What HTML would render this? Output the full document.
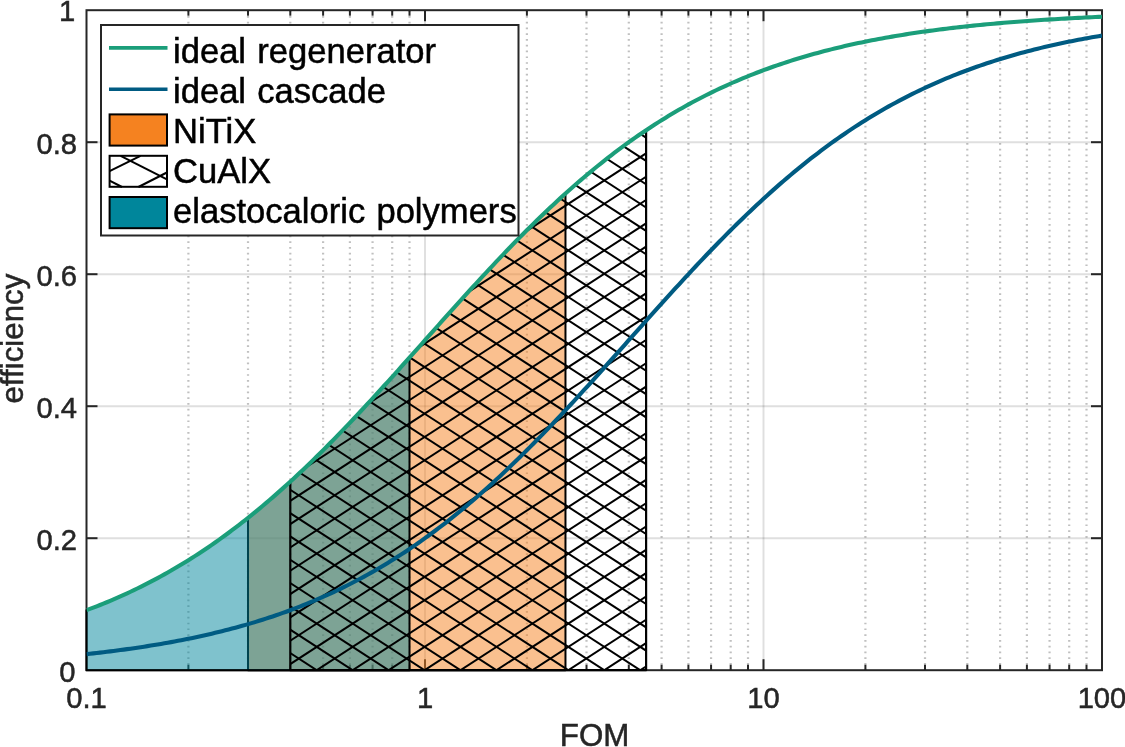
<!DOCTYPE html>
<html><head><meta charset="utf-8"><title>efficiency vs FOM</title>
<style>html,body{margin:0;padding:0;background:#fff}svg{display:block}</style></head>
<body>
<svg width="1125" height="747" viewBox="0 0 1125 747" font-family="'Liberation Sans', sans-serif">
<rect width="1125" height="747" fill="#fff"/>
<defs><clipPath id="ax"><rect x="86.5" y="10.2" width="1015.5" height="660.0"/></clipPath></defs>
<g stroke="#c0c0c0" stroke-width="2.2" stroke-dasharray="1.7 4.078" stroke-dashoffset="0.35" fill="none">
<line x1="188.40" y1="670.2" x2="188.40" y2="10.2"/>
<line x1="248.01" y1="670.2" x2="248.01" y2="10.2"/>
<line x1="290.30" y1="670.2" x2="290.30" y2="10.2"/>
<line x1="323.10" y1="670.2" x2="323.10" y2="10.2"/>
<line x1="349.90" y1="670.2" x2="349.90" y2="10.2"/>
<line x1="372.57" y1="670.2" x2="372.57" y2="10.2"/>
<line x1="392.20" y1="670.2" x2="392.20" y2="10.2"/>
<line x1="409.51" y1="670.2" x2="409.51" y2="10.2"/>
<line x1="526.90" y1="670.2" x2="526.90" y2="10.2"/>
<line x1="586.51" y1="670.2" x2="586.51" y2="10.2"/>
<line x1="628.80" y1="670.2" x2="628.80" y2="10.2"/>
<line x1="661.60" y1="670.2" x2="661.60" y2="10.2"/>
<line x1="688.40" y1="670.2" x2="688.40" y2="10.2"/>
<line x1="711.07" y1="670.2" x2="711.07" y2="10.2"/>
<line x1="730.70" y1="670.2" x2="730.70" y2="10.2"/>
<line x1="748.01" y1="670.2" x2="748.01" y2="10.2"/>
<line x1="865.40" y1="670.2" x2="865.40" y2="10.2"/>
<line x1="925.01" y1="670.2" x2="925.01" y2="10.2"/>
<line x1="967.30" y1="670.2" x2="967.30" y2="10.2"/>
<line x1="1000.10" y1="670.2" x2="1000.10" y2="10.2"/>
<line x1="1026.90" y1="670.2" x2="1026.90" y2="10.2"/>
<line x1="1049.57" y1="670.2" x2="1049.57" y2="10.2"/>
<line x1="1069.20" y1="670.2" x2="1069.20" y2="10.2"/>
<line x1="1086.51" y1="670.2" x2="1086.51" y2="10.2"/>
</g>
<g stroke="#262626" stroke-opacity="0.15" stroke-width="1.9" fill="none">
<line x1="425.00" y1="670.2" x2="425.00" y2="10.2"/>
<line x1="763.50" y1="670.2" x2="763.50" y2="10.2"/>
<line x1="86.5" y1="538.20" x2="1102.0" y2="538.20"/>
<line x1="86.5" y1="406.20" x2="1102.0" y2="406.20"/>
<line x1="86.5" y1="274.20" x2="1102.0" y2="274.20"/>
<line x1="86.5" y1="142.20" x2="1102.0" y2="142.20"/>
</g>
<g stroke="#262626" stroke-width="2" fill="none">
<line x1="188.40" y1="670.2" x2="188.40" y2="664.7"/>
<line x1="188.40" y1="10.2" x2="188.40" y2="15.7"/>
<line x1="248.01" y1="670.2" x2="248.01" y2="664.7"/>
<line x1="248.01" y1="10.2" x2="248.01" y2="15.7"/>
<line x1="290.30" y1="670.2" x2="290.30" y2="664.7"/>
<line x1="290.30" y1="10.2" x2="290.30" y2="15.7"/>
<line x1="323.10" y1="670.2" x2="323.10" y2="664.7"/>
<line x1="323.10" y1="10.2" x2="323.10" y2="15.7"/>
<line x1="349.90" y1="670.2" x2="349.90" y2="664.7"/>
<line x1="349.90" y1="10.2" x2="349.90" y2="15.7"/>
<line x1="372.57" y1="670.2" x2="372.57" y2="664.7"/>
<line x1="372.57" y1="10.2" x2="372.57" y2="15.7"/>
<line x1="392.20" y1="670.2" x2="392.20" y2="664.7"/>
<line x1="392.20" y1="10.2" x2="392.20" y2="15.7"/>
<line x1="409.51" y1="670.2" x2="409.51" y2="664.7"/>
<line x1="409.51" y1="10.2" x2="409.51" y2="15.7"/>
<line x1="526.90" y1="670.2" x2="526.90" y2="664.7"/>
<line x1="526.90" y1="10.2" x2="526.90" y2="15.7"/>
<line x1="586.51" y1="670.2" x2="586.51" y2="664.7"/>
<line x1="586.51" y1="10.2" x2="586.51" y2="15.7"/>
<line x1="628.80" y1="670.2" x2="628.80" y2="664.7"/>
<line x1="628.80" y1="10.2" x2="628.80" y2="15.7"/>
<line x1="661.60" y1="670.2" x2="661.60" y2="664.7"/>
<line x1="661.60" y1="10.2" x2="661.60" y2="15.7"/>
<line x1="688.40" y1="670.2" x2="688.40" y2="664.7"/>
<line x1="688.40" y1="10.2" x2="688.40" y2="15.7"/>
<line x1="711.07" y1="670.2" x2="711.07" y2="664.7"/>
<line x1="711.07" y1="10.2" x2="711.07" y2="15.7"/>
<line x1="730.70" y1="670.2" x2="730.70" y2="664.7"/>
<line x1="730.70" y1="10.2" x2="730.70" y2="15.7"/>
<line x1="748.01" y1="670.2" x2="748.01" y2="664.7"/>
<line x1="748.01" y1="10.2" x2="748.01" y2="15.7"/>
<line x1="865.40" y1="670.2" x2="865.40" y2="664.7"/>
<line x1="865.40" y1="10.2" x2="865.40" y2="15.7"/>
<line x1="925.01" y1="670.2" x2="925.01" y2="664.7"/>
<line x1="925.01" y1="10.2" x2="925.01" y2="15.7"/>
<line x1="967.30" y1="670.2" x2="967.30" y2="664.7"/>
<line x1="967.30" y1="10.2" x2="967.30" y2="15.7"/>
<line x1="1000.10" y1="670.2" x2="1000.10" y2="664.7"/>
<line x1="1000.10" y1="10.2" x2="1000.10" y2="15.7"/>
<line x1="1026.90" y1="670.2" x2="1026.90" y2="664.7"/>
<line x1="1026.90" y1="10.2" x2="1026.90" y2="15.7"/>
<line x1="1049.57" y1="670.2" x2="1049.57" y2="664.7"/>
<line x1="1049.57" y1="10.2" x2="1049.57" y2="15.7"/>
<line x1="1069.20" y1="670.2" x2="1069.20" y2="664.7"/>
<line x1="1069.20" y1="10.2" x2="1069.20" y2="15.7"/>
<line x1="1086.51" y1="670.2" x2="1086.51" y2="664.7"/>
<line x1="1086.51" y1="10.2" x2="1086.51" y2="15.7"/>
<line x1="425.00" y1="670.2" x2="425.00" y2="659.2"/>
<line x1="425.00" y1="10.2" x2="425.00" y2="21.2"/>
<line x1="763.50" y1="670.2" x2="763.50" y2="659.2"/>
<line x1="763.50" y1="10.2" x2="763.50" y2="21.2"/>
<line x1="86.5" y1="538.20" x2="97.5" y2="538.20"/>
<line x1="1102.0" y1="538.20" x2="1091.0" y2="538.20"/>
<line x1="86.5" y1="406.20" x2="97.5" y2="406.20"/>
<line x1="1102.0" y1="406.20" x2="1091.0" y2="406.20"/>
<line x1="86.5" y1="274.20" x2="97.5" y2="274.20"/>
<line x1="1102.0" y1="274.20" x2="1091.0" y2="274.20"/>
<line x1="86.5" y1="142.20" x2="97.5" y2="142.20"/>
<line x1="1102.0" y1="142.20" x2="1091.0" y2="142.20"/>
<rect x="86.5" y="10.2" width="1015.5" height="660.0"/>
</g>
<path d="M248.01,670.20 L248.01,517.89 L251.97,514.71 L255.94,511.48 L259.91,508.20 L263.88,504.88 L267.85,501.51 L271.82,498.10 L275.78,494.64 L279.75,491.14 L283.72,487.60 L287.69,484.01 L291.66,480.38 L295.62,476.71 L299.59,473.00 L303.56,469.24 L307.53,465.45 L311.50,461.62 L315.47,457.75 L319.43,453.84 L323.40,449.90 L327.37,445.92 L331.34,441.91 L335.31,437.86 L339.28,433.78 L343.24,429.67 L347.21,425.53 L351.18,421.36 L355.15,417.16 L359.12,412.93 L363.09,408.68 L367.05,404.41 L371.02,400.11 L374.99,395.79 L378.96,391.46 L382.93,387.10 L386.90,382.73 L390.86,378.34 L394.83,373.94 L398.80,369.53 L402.77,365.10 L406.74,360.67 L410.71,356.23 L414.67,351.79 L418.64,347.34 L422.61,342.88 L426.58,338.43 L430.55,333.98 L434.52,329.52 L438.48,325.08 L442.45,320.64 L446.42,316.20 L450.39,311.78 L454.36,307.36 L458.32,302.96 L462.29,298.57 L466.26,294.19 L470.23,289.83 L474.20,285.49 L478.17,281.17 L482.13,276.87 L486.10,272.59 L490.07,268.33 L494.04,264.10 L498.01,259.90 L501.98,255.72 L505.94,251.58 L509.91,247.46 L513.88,243.37 L517.85,239.32 L521.82,235.30 L525.79,231.31 L529.75,227.36 L533.72,223.45 L537.69,219.57 L541.66,215.73 L545.63,211.93 L549.60,208.17 L553.56,204.45 L557.53,200.77 L561.50,197.13 L565.47,193.53 L565.47,670.20Z" fill="#f58220" fill-opacity="0.5" stroke="#000" stroke-width="2" stroke-linejoin="round"/>
<path d="M86.50,670.20 L86.50,610.20 L90.54,608.68 L94.58,607.14 L98.61,605.55 L102.65,603.93 L106.69,602.28 L110.73,600.58 L114.76,598.86 L118.80,597.09 L122.84,595.28 L126.88,593.44 L130.91,591.56 L134.95,589.64 L138.99,587.67 L143.03,585.67 L147.06,583.62 L151.10,581.54 L155.14,579.41 L159.18,577.24 L163.22,575.02 L167.25,572.76 L171.29,570.46 L175.33,568.11 L179.37,565.72 L183.40,563.28 L187.44,560.80 L191.48,558.27 L195.52,555.69 L199.55,553.07 L203.59,550.40 L207.63,547.68 L211.67,544.92 L215.70,542.11 L219.74,539.25 L223.78,536.34 L227.82,533.38 L231.85,530.38 L235.89,527.33 L239.93,524.23 L243.97,521.09 L248.01,517.89 L252.04,514.65 L256.08,511.36 L260.12,508.03 L264.16,504.64 L268.19,501.21 L272.23,497.74 L276.27,494.21 L280.31,490.65 L284.34,487.04 L288.38,483.38 L292.42,479.68 L296.46,475.93 L300.49,472.15 L304.53,468.32 L308.57,464.45 L312.61,460.54 L316.65,456.59 L320.68,452.61 L324.72,448.58 L328.76,444.52 L332.80,440.42 L336.83,436.29 L340.87,432.13 L344.91,427.93 L348.95,423.71 L352.98,419.45 L357.02,415.17 L361.06,410.86 L365.10,406.52 L369.13,402.16 L373.17,397.78 L377.21,393.37 L381.25,388.95 L385.29,384.51 L389.32,380.05 L393.36,375.58 L397.40,371.09 L401.44,366.59 L405.47,362.08 L409.51,357.57 L409.51,670.20Z" fill="#00869b" fill-opacity="0.5"/>
<path d="M86.50,670.20 L86.50,610.20 L90.54,608.68 L94.58,607.14 L98.61,605.55 L102.65,603.93 L106.69,602.28 L110.73,600.58 L114.76,598.86 L118.80,597.09 L122.84,595.28 L126.88,593.44 L130.91,591.56 L134.95,589.64 L138.99,587.67 L143.03,585.67 L147.06,583.62 L151.10,581.54 L155.14,579.41 L159.18,577.24 L163.22,575.02 L167.25,572.76 L171.29,570.46 L175.33,568.11 L179.37,565.72 L183.40,563.28 L187.44,560.80 L191.48,558.27 L195.52,555.69 L199.55,553.07 L203.59,550.40 L207.63,547.68 L211.67,544.92 L215.70,542.11 L219.74,539.25 L223.78,536.34 L227.82,533.38 L231.85,530.38 L235.89,527.33 L239.93,524.23 L243.97,521.09 L248.01,517.89 L252.04,514.65 L256.08,511.36 L260.12,508.03 L264.16,504.64 L268.19,501.21 L272.23,497.74 L276.27,494.21 L280.31,490.65 L284.34,487.04 L288.38,483.38 L292.42,479.68 L296.46,475.93 L300.49,472.15 L304.53,468.32 L308.57,464.45 L312.61,460.54 L316.65,456.59 L320.68,452.61 L324.72,448.58 L328.76,444.52 L332.80,440.42 L336.83,436.29 L340.87,432.13 L344.91,427.93 L348.95,423.71 L352.98,419.45 L357.02,415.17 L361.06,410.86 L365.10,406.52 L369.13,402.16 L373.17,397.78 L377.21,393.37 L381.25,388.95 L385.29,384.51 L389.32,380.05 L393.36,375.58 L397.40,371.09 L401.44,366.59 L405.47,362.08 L409.51,357.57 L409.51,670.20Z" fill="none" stroke="#000" stroke-width="2" stroke-linejoin="round"/>
<clipPath id="cu"><path d="M290.30,670.20 L290.30,481.63 L294.74,477.53 L299.19,473.37 L303.64,469.17 L308.09,464.92 L312.54,460.61 L316.98,456.26 L321.43,451.86 L325.88,447.42 L330.33,442.93 L334.77,438.40 L339.22,433.83 L343.67,429.22 L348.12,424.58 L352.56,419.89 L357.01,415.18 L361.46,410.43 L365.91,405.64 L370.36,400.84 L374.80,396.00 L379.25,391.14 L383.70,386.25 L388.15,381.35 L392.59,376.43 L397.04,371.49 L401.49,366.53 L405.94,361.57 L410.38,356.59 L414.83,351.61 L419.28,346.62 L423.73,341.63 L428.18,336.64 L432.62,331.65 L437.07,326.66 L441.52,321.68 L445.97,316.71 L450.41,311.75 L454.86,306.80 L459.31,301.87 L463.76,296.95 L468.20,292.05 L472.65,287.18 L477.10,282.33 L481.55,277.50 L486.00,272.71 L490.44,267.94 L494.89,263.20 L499.34,258.50 L503.79,253.83 L508.23,249.20 L512.68,244.60 L517.13,240.05 L521.58,235.54 L526.02,231.07 L530.47,226.65 L534.92,222.27 L539.37,217.94 L543.82,213.66 L548.26,209.42 L552.71,205.24 L557.16,201.11 L561.61,197.03 L566.05,193.01 L570.50,189.03 L574.95,185.12 L579.40,181.26 L583.84,177.45 L588.29,173.70 L592.74,170.01 L597.19,166.37 L601.64,162.79 L606.08,159.27 L610.53,155.81 L614.98,152.41 L619.43,149.06 L623.87,145.77 L628.32,142.54 L632.77,139.37 L637.22,136.26 L641.66,133.20 L646.11,130.20 L646.11,670.20Z"/></clipPath>
<g clip-path="url(#cu)" stroke="#000" stroke-width="2" fill="none">
<line x1="250" y1="-32.77" x2="700" y2="-324.68"/>
<line x1="250" y1="-492.43" x2="700" y2="-200.52"/>
<line x1="250" y1="-9.45" x2="700" y2="-301.36"/>
<line x1="250" y1="-469.11" x2="700" y2="-177.20"/>
<line x1="250" y1="13.87" x2="700" y2="-278.04"/>
<line x1="250" y1="-445.79" x2="700" y2="-153.88"/>
<line x1="250" y1="37.19" x2="700" y2="-254.72"/>
<line x1="250" y1="-422.47" x2="700" y2="-130.56"/>
<line x1="250" y1="60.51" x2="700" y2="-231.40"/>
<line x1="250" y1="-399.15" x2="700" y2="-107.24"/>
<line x1="250" y1="83.83" x2="700" y2="-208.08"/>
<line x1="250" y1="-375.83" x2="700" y2="-83.92"/>
<line x1="250" y1="107.15" x2="700" y2="-184.76"/>
<line x1="250" y1="-352.51" x2="700" y2="-60.60"/>
<line x1="250" y1="130.47" x2="700" y2="-161.44"/>
<line x1="250" y1="-329.19" x2="700" y2="-37.28"/>
<line x1="250" y1="153.79" x2="700" y2="-138.12"/>
<line x1="250" y1="-305.87" x2="700" y2="-13.96"/>
<line x1="250" y1="177.11" x2="700" y2="-114.80"/>
<line x1="250" y1="-282.55" x2="700" y2="9.36"/>
<line x1="250" y1="200.43" x2="700" y2="-91.48"/>
<line x1="250" y1="-259.23" x2="700" y2="32.68"/>
<line x1="250" y1="223.75" x2="700" y2="-68.16"/>
<line x1="250" y1="-235.91" x2="700" y2="56.00"/>
<line x1="250" y1="247.07" x2="700" y2="-44.84"/>
<line x1="250" y1="-212.59" x2="700" y2="79.32"/>
<line x1="250" y1="270.39" x2="700" y2="-21.52"/>
<line x1="250" y1="-189.27" x2="700" y2="102.64"/>
<line x1="250" y1="293.71" x2="700" y2="1.80"/>
<line x1="250" y1="-165.95" x2="700" y2="125.96"/>
<line x1="250" y1="317.03" x2="700" y2="25.12"/>
<line x1="250" y1="-142.63" x2="700" y2="149.28"/>
<line x1="250" y1="340.35" x2="700" y2="48.44"/>
<line x1="250" y1="-119.31" x2="700" y2="172.60"/>
<line x1="250" y1="363.67" x2="700" y2="71.76"/>
<line x1="250" y1="-95.99" x2="700" y2="195.92"/>
<line x1="250" y1="386.99" x2="700" y2="95.08"/>
<line x1="250" y1="-72.67" x2="700" y2="219.24"/>
<line x1="250" y1="410.31" x2="700" y2="118.40"/>
<line x1="250" y1="-49.35" x2="700" y2="242.56"/>
<line x1="250" y1="433.63" x2="700" y2="141.72"/>
<line x1="250" y1="-26.03" x2="700" y2="265.88"/>
<line x1="250" y1="456.95" x2="700" y2="165.04"/>
<line x1="250" y1="-2.71" x2="700" y2="289.20"/>
<line x1="250" y1="480.27" x2="700" y2="188.36"/>
<line x1="250" y1="20.61" x2="700" y2="312.52"/>
<line x1="250" y1="503.59" x2="700" y2="211.68"/>
<line x1="250" y1="43.93" x2="700" y2="335.84"/>
<line x1="250" y1="526.91" x2="700" y2="235.00"/>
<line x1="250" y1="67.25" x2="700" y2="359.16"/>
<line x1="250" y1="550.23" x2="700" y2="258.32"/>
<line x1="250" y1="90.57" x2="700" y2="382.48"/>
<line x1="250" y1="573.55" x2="700" y2="281.64"/>
<line x1="250" y1="113.89" x2="700" y2="405.80"/>
<line x1="250" y1="596.87" x2="700" y2="304.96"/>
<line x1="250" y1="137.21" x2="700" y2="429.12"/>
<line x1="250" y1="620.19" x2="700" y2="328.28"/>
<line x1="250" y1="160.53" x2="700" y2="452.44"/>
<line x1="250" y1="643.51" x2="700" y2="351.60"/>
<line x1="250" y1="183.85" x2="700" y2="475.76"/>
<line x1="250" y1="666.83" x2="700" y2="374.92"/>
<line x1="250" y1="207.17" x2="700" y2="499.08"/>
<line x1="250" y1="690.15" x2="700" y2="398.24"/>
<line x1="250" y1="230.49" x2="700" y2="522.40"/>
<line x1="250" y1="713.47" x2="700" y2="421.56"/>
<line x1="250" y1="253.81" x2="700" y2="545.72"/>
<line x1="250" y1="736.79" x2="700" y2="444.88"/>
<line x1="250" y1="277.13" x2="700" y2="569.04"/>
<line x1="250" y1="760.11" x2="700" y2="468.20"/>
<line x1="250" y1="300.45" x2="700" y2="592.36"/>
<line x1="250" y1="783.43" x2="700" y2="491.52"/>
<line x1="250" y1="323.77" x2="700" y2="615.68"/>
<line x1="250" y1="806.75" x2="700" y2="514.84"/>
<line x1="250" y1="347.09" x2="700" y2="639.00"/>
<line x1="250" y1="830.07" x2="700" y2="538.16"/>
<line x1="250" y1="370.41" x2="700" y2="662.32"/>
<line x1="250" y1="853.39" x2="700" y2="561.48"/>
<line x1="250" y1="393.73" x2="700" y2="685.64"/>
<line x1="250" y1="876.71" x2="700" y2="584.80"/>
<line x1="250" y1="417.05" x2="700" y2="708.96"/>
<line x1="250" y1="900.03" x2="700" y2="608.12"/>
<line x1="250" y1="440.37" x2="700" y2="732.28"/>
<line x1="250" y1="923.35" x2="700" y2="631.44"/>
<line x1="250" y1="463.69" x2="700" y2="755.60"/>
<line x1="250" y1="946.67" x2="700" y2="654.76"/>
<line x1="250" y1="487.01" x2="700" y2="778.92"/>
<line x1="250" y1="969.99" x2="700" y2="678.08"/>
<line x1="250" y1="510.33" x2="700" y2="802.24"/>
<line x1="250" y1="993.31" x2="700" y2="701.40"/>
<line x1="250" y1="533.65" x2="700" y2="825.56"/>
<line x1="250" y1="1016.63" x2="700" y2="724.72"/>
<line x1="250" y1="556.97" x2="700" y2="848.88"/>
<line x1="250" y1="1039.95" x2="700" y2="748.04"/>
<line x1="250" y1="580.29" x2="700" y2="872.20"/>
<line x1="250" y1="1063.27" x2="700" y2="771.36"/>
<line x1="250" y1="603.61" x2="700" y2="895.52"/>
<line x1="250" y1="1086.59" x2="700" y2="794.68"/>
<line x1="250" y1="626.93" x2="700" y2="918.84"/>
<line x1="250" y1="1109.91" x2="700" y2="818.00"/>
<line x1="250" y1="650.25" x2="700" y2="942.16"/>
<line x1="250" y1="1133.23" x2="700" y2="841.32"/>
<line x1="250" y1="673.57" x2="700" y2="965.48"/>
<line x1="250" y1="1156.55" x2="700" y2="864.64"/>
<line x1="250" y1="696.89" x2="700" y2="988.80"/>
<line x1="250" y1="1179.87" x2="700" y2="887.96"/>
<line x1="250" y1="720.21" x2="700" y2="1012.12"/>
<line x1="250" y1="1203.19" x2="700" y2="911.28"/>
<line x1="250" y1="743.53" x2="700" y2="1035.44"/>
<line x1="250" y1="1226.51" x2="700" y2="934.60"/>
<line x1="250" y1="766.85" x2="700" y2="1058.76"/>
<line x1="250" y1="1249.83" x2="700" y2="957.92"/>
<line x1="250" y1="790.17" x2="700" y2="1082.08"/>
<line x1="250" y1="1273.15" x2="700" y2="981.24"/>
<line x1="250" y1="813.49" x2="700" y2="1105.40"/>
<line x1="250" y1="1296.47" x2="700" y2="1004.56"/>
<line x1="250" y1="836.81" x2="700" y2="1128.72"/>
<line x1="250" y1="1319.79" x2="700" y2="1027.88"/>
<line x1="250" y1="860.13" x2="700" y2="1152.04"/>
<line x1="250" y1="1343.11" x2="700" y2="1051.20"/>
<line x1="250" y1="883.45" x2="700" y2="1175.36"/>
<line x1="250" y1="1366.43" x2="700" y2="1074.52"/>
<line x1="250" y1="906.77" x2="700" y2="1198.68"/>
<line x1="250" y1="1389.75" x2="700" y2="1097.84"/>
<line x1="250" y1="930.09" x2="700" y2="1222.00"/>
<line x1="250" y1="1413.07" x2="700" y2="1121.16"/>
<line x1="250" y1="953.41" x2="700" y2="1245.32"/>
<line x1="250" y1="1436.39" x2="700" y2="1144.48"/>
<line x1="250" y1="976.73" x2="700" y2="1268.64"/>
<line x1="250" y1="1459.71" x2="700" y2="1167.80"/>
<line x1="250" y1="1000.05" x2="700" y2="1291.96"/>
<line x1="250" y1="1483.03" x2="700" y2="1191.12"/>
<line x1="250" y1="1023.37" x2="700" y2="1315.28"/>
<line x1="250" y1="1506.35" x2="700" y2="1214.44"/>
<line x1="250" y1="1046.69" x2="700" y2="1338.60"/>
<line x1="250" y1="1529.67" x2="700" y2="1237.76"/>
<line x1="250" y1="1070.01" x2="700" y2="1361.92"/>
<line x1="250" y1="1552.99" x2="700" y2="1261.08"/>
<line x1="250" y1="1093.33" x2="700" y2="1385.24"/>
<line x1="250" y1="1576.31" x2="700" y2="1284.40"/>
<line x1="250" y1="1116.65" x2="700" y2="1408.56"/>
<line x1="250" y1="1599.63" x2="700" y2="1307.72"/>
<line x1="250" y1="1139.97" x2="700" y2="1431.88"/>
<line x1="250" y1="1622.95" x2="700" y2="1331.04"/>
<line x1="250" y1="1163.29" x2="700" y2="1455.20"/>
<line x1="250" y1="1646.27" x2="700" y2="1354.36"/>
<line x1="250" y1="1186.61" x2="700" y2="1478.52"/>
<line x1="250" y1="1669.59" x2="700" y2="1377.68"/>
<line x1="250" y1="1209.93" x2="700" y2="1501.84"/>
<line x1="250" y1="1692.91" x2="700" y2="1401.00"/>
<line x1="250" y1="1233.25" x2="700" y2="1525.16"/>
<line x1="250" y1="1716.23" x2="700" y2="1424.32"/>
<line x1="250" y1="1256.57" x2="700" y2="1548.48"/>
<line x1="250" y1="1739.55" x2="700" y2="1447.64"/>
<line x1="250" y1="1279.89" x2="700" y2="1571.80"/>
<line x1="250" y1="1762.87" x2="700" y2="1470.96"/>
<line x1="250" y1="1303.21" x2="700" y2="1595.12"/>
<line x1="250" y1="1786.19" x2="700" y2="1494.28"/>
<line x1="250" y1="1326.53" x2="700" y2="1618.44"/>
<line x1="250" y1="1809.51" x2="700" y2="1517.60"/>
<line x1="250" y1="1349.85" x2="700" y2="1641.76"/>
<line x1="250" y1="1832.83" x2="700" y2="1540.92"/>
<line x1="250" y1="1373.17" x2="700" y2="1665.08"/>
<line x1="250" y1="1856.15" x2="700" y2="1564.24"/>
<line x1="250" y1="1396.49" x2="700" y2="1688.40"/>
<line x1="250" y1="1879.47" x2="700" y2="1587.56"/>
<line x1="250" y1="1419.81" x2="700" y2="1711.72"/>
<line x1="250" y1="1902.79" x2="700" y2="1610.88"/>
<line x1="250" y1="1443.13" x2="700" y2="1735.04"/>
<line x1="250" y1="1926.11" x2="700" y2="1634.20"/>
<line x1="250" y1="1466.45" x2="700" y2="1758.36"/>
<line x1="250" y1="1949.43" x2="700" y2="1657.52"/>
<line x1="250" y1="1489.77" x2="700" y2="1781.68"/>
<line x1="250" y1="1972.75" x2="700" y2="1680.84"/>
<line x1="250" y1="1513.09" x2="700" y2="1805.00"/>
<line x1="250" y1="1996.07" x2="700" y2="1704.16"/>
<line x1="250" y1="1536.41" x2="700" y2="1828.32"/>
<line x1="250" y1="2019.39" x2="700" y2="1727.48"/>
<line x1="250" y1="1559.73" x2="700" y2="1851.64"/>
<line x1="250" y1="2042.71" x2="700" y2="1750.80"/>
<line x1="250" y1="1583.05" x2="700" y2="1874.96"/>
<line x1="250" y1="2066.03" x2="700" y2="1774.12"/>
<line x1="250" y1="1606.37" x2="700" y2="1898.28"/>
<line x1="250" y1="2089.35" x2="700" y2="1797.44"/>
<line x1="250" y1="1629.69" x2="700" y2="1921.60"/>
<line x1="250" y1="2112.67" x2="700" y2="1820.76"/>
<line x1="250" y1="1653.01" x2="700" y2="1944.92"/>
<line x1="250" y1="2135.99" x2="700" y2="1844.08"/>
<line x1="250" y1="1676.33" x2="700" y2="1968.24"/>
<line x1="250" y1="2159.31" x2="700" y2="1867.40"/>
<line x1="250" y1="1699.65" x2="700" y2="1991.56"/>
<line x1="250" y1="2182.63" x2="700" y2="1890.72"/>
<line x1="250" y1="1722.97" x2="700" y2="2014.88"/>
<line x1="250" y1="2205.95" x2="700" y2="1914.04"/>
<line x1="250" y1="1746.29" x2="700" y2="2038.20"/>
<line x1="250" y1="2229.27" x2="700" y2="1937.36"/>
<line x1="250" y1="1769.61" x2="700" y2="2061.52"/>
<line x1="250" y1="2252.59" x2="700" y2="1960.68"/>
<line x1="250" y1="1792.93" x2="700" y2="2084.84"/>
<line x1="250" y1="2275.91" x2="700" y2="1984.00"/>
<line x1="250" y1="1816.25" x2="700" y2="2108.16"/>
</g>
<path d="M290.30,670.20 L290.30,481.63 L294.74,477.53 L299.19,473.37 L303.64,469.17 L308.09,464.92 L312.54,460.61 L316.98,456.26 L321.43,451.86 L325.88,447.42 L330.33,442.93 L334.77,438.40 L339.22,433.83 L343.67,429.22 L348.12,424.58 L352.56,419.89 L357.01,415.18 L361.46,410.43 L365.91,405.64 L370.36,400.84 L374.80,396.00 L379.25,391.14 L383.70,386.25 L388.15,381.35 L392.59,376.43 L397.04,371.49 L401.49,366.53 L405.94,361.57 L410.38,356.59 L414.83,351.61 L419.28,346.62 L423.73,341.63 L428.18,336.64 L432.62,331.65 L437.07,326.66 L441.52,321.68 L445.97,316.71 L450.41,311.75 L454.86,306.80 L459.31,301.87 L463.76,296.95 L468.20,292.05 L472.65,287.18 L477.10,282.33 L481.55,277.50 L486.00,272.71 L490.44,267.94 L494.89,263.20 L499.34,258.50 L503.79,253.83 L508.23,249.20 L512.68,244.60 L517.13,240.05 L521.58,235.54 L526.02,231.07 L530.47,226.65 L534.92,222.27 L539.37,217.94 L543.82,213.66 L548.26,209.42 L552.71,205.24 L557.16,201.11 L561.61,197.03 L566.05,193.01 L570.50,189.03 L574.95,185.12 L579.40,181.26 L583.84,177.45 L588.29,173.70 L592.74,170.01 L597.19,166.37 L601.64,162.79 L606.08,159.27 L610.53,155.81 L614.98,152.41 L619.43,149.06 L623.87,145.77 L628.32,142.54 L632.77,139.37 L637.22,136.26 L641.66,133.20 L646.11,130.20 L646.11,670.20Z" fill="none" stroke="#000" stroke-width="2.2" stroke-linejoin="round"/>
<g clip-path="url(#ax)" fill="none" stroke-width="4.1" stroke-linejoin="round">
<path d="M86.50,610.20 L89.89,608.93 L93.27,607.64 L96.66,606.32 L100.04,604.98 L103.43,603.62 L106.81,602.23 L110.20,600.81 L113.58,599.37 L116.96,597.90 L120.35,596.40 L123.73,594.88 L127.12,593.33 L130.50,591.75 L133.89,590.15 L137.28,588.51 L140.66,586.85 L144.05,585.16 L147.43,583.44 L150.81,581.69 L154.20,579.91 L157.58,578.10 L160.97,576.26 L164.35,574.39 L167.74,572.49 L171.12,570.55 L174.51,568.59 L177.90,566.59 L181.28,564.57 L184.67,562.51 L188.05,560.42 L191.44,558.29 L194.82,556.14 L198.21,553.95 L201.59,551.73 L204.97,549.47 L208.36,547.18 L211.75,544.86 L215.13,542.51 L218.52,540.12 L221.90,537.70 L225.28,535.24 L228.67,532.75 L232.05,530.23 L235.44,527.68 L238.82,525.09 L242.21,522.46 L245.59,519.80 L248.98,517.11 L252.37,514.39 L255.75,511.63 L259.13,508.84 L262.52,506.02 L265.90,503.16 L269.29,500.27 L272.68,497.35 L276.06,494.40 L279.44,491.41 L282.83,488.40 L286.22,485.35 L289.60,482.27 L292.99,479.16 L296.37,476.02 L299.75,472.85 L303.14,469.64 L306.52,466.42 L309.91,463.16 L313.30,459.87 L316.68,456.56 L320.06,453.22 L323.45,449.85 L326.83,446.46 L330.22,443.04 L333.61,439.60 L336.99,436.13 L340.38,432.64 L343.76,429.13 L347.14,425.60 L350.53,422.04 L353.92,418.47 L357.30,414.87 L360.69,411.26 L364.07,407.62 L367.45,403.98 L370.84,400.31 L374.22,396.63 L377.61,392.93 L381.00,389.22 L384.38,385.50 L387.76,381.77 L391.15,378.03 L394.54,374.27 L397.92,370.51 L401.31,366.74 L404.69,362.96 L408.07,359.18 L411.46,355.39 L414.84,351.59 L418.23,347.80 L421.62,344.00 L425.00,340.20 L428.38,336.40 L431.77,332.60 L435.16,328.81 L438.54,325.01 L441.93,321.22 L445.31,317.44 L448.69,313.66 L452.08,309.89 L455.47,306.13 L458.85,302.37 L462.24,298.63 L465.62,294.90 L469.00,291.18 L472.39,287.47 L475.77,283.77 L479.16,280.09 L482.54,276.42 L485.93,272.78 L489.31,269.14 L492.70,265.53 L496.08,261.93 L499.47,258.36 L502.86,254.80 L506.24,251.27 L509.62,247.76 L513.01,244.27 L516.39,240.80 L519.78,237.36 L523.16,233.94 L526.55,230.55 L529.93,227.18 L533.32,223.84 L536.71,220.53 L540.09,217.24 L543.48,213.98 L546.86,210.76 L550.25,207.55 L553.63,204.38 L557.01,201.24 L560.40,198.13 L563.78,195.05 L567.17,192.00 L570.56,188.99 L573.94,186.00 L577.33,183.05 L580.71,180.13 L584.10,177.24 L587.48,174.38 L590.87,171.56 L594.25,168.77 L597.63,166.01 L601.02,163.29 L604.40,160.60 L607.79,157.94 L611.18,155.31 L614.56,152.72 L617.95,150.17 L621.33,147.65 L624.72,145.16 L628.10,142.70 L631.49,140.28 L634.87,137.89 L638.25,135.54 L641.64,133.22 L645.02,130.93 L648.41,128.67 L651.79,126.45 L655.18,124.26 L658.56,122.11 L661.95,119.98 L665.34,117.89 L668.72,115.83 L672.11,113.81 L675.49,111.81 L678.88,109.85 L682.26,107.91 L685.64,106.01 L689.03,104.14 L692.41,102.30 L695.80,100.49 L699.19,98.71 L702.57,96.96 L705.96,95.24 L709.34,93.55 L712.73,91.89 L716.11,90.25 L719.50,88.65 L722.88,87.07 L726.26,85.52 L729.65,84.00 L733.03,82.50 L736.42,81.03 L739.80,79.59 L743.19,78.17 L746.57,76.78 L749.96,75.42 L753.35,74.08 L756.73,72.76 L760.12,71.47 L763.50,70.20 L766.88,68.96 L770.27,67.73 L773.65,66.54 L777.04,65.36 L780.42,64.21 L783.81,63.08 L787.19,61.97 L790.58,60.88 L793.96,59.81 L797.35,58.77 L800.74,57.74 L804.12,56.74 L807.50,55.75 L810.89,54.78 L814.27,53.84 L817.66,52.91 L821.04,52.00 L824.43,51.10 L827.81,50.23 L831.20,49.37 L834.59,48.53 L837.97,47.71 L841.36,46.90 L844.74,46.11 L848.12,45.34 L851.51,44.58 L854.89,43.84 L858.28,43.11 L861.66,42.40 L865.05,41.70 L868.44,41.02 L871.82,40.35 L875.21,39.69 L878.59,39.05 L881.98,38.42 L885.36,37.81 L888.75,37.20 L892.13,36.61 L895.51,36.03 L898.90,35.47 L902.29,34.92 L905.67,34.37 L909.06,33.84 L912.44,33.32 L915.83,32.82 L919.21,32.32 L922.60,31.83 L925.98,31.35 L929.37,30.89 L932.75,30.43 L936.13,29.98 L939.52,29.55 L942.90,29.12 L946.29,28.70 L949.67,28.29 L953.06,27.89 L956.44,27.50 L959.83,27.11 L963.21,26.74 L966.60,26.37 L969.99,26.01 L973.37,25.66 L976.75,25.32 L980.14,24.98 L983.52,24.65 L986.91,24.33 L990.29,24.02 L993.68,23.71 L997.06,23.41 L1000.45,23.11 L1003.84,22.82 L1007.22,22.54 L1010.61,22.27 L1013.99,22.00 L1017.38,21.73 L1020.76,21.47 L1024.14,21.22 L1027.53,20.97 L1030.91,20.73 L1034.30,20.50 L1037.68,20.27 L1041.07,20.04 L1044.45,19.82 L1047.84,19.60 L1051.22,19.39 L1054.61,19.19 L1057.99,18.98 L1061.38,18.79 L1064.76,18.59 L1068.15,18.41 L1071.54,18.22 L1074.92,18.04 L1078.31,17.86 L1081.69,17.69 L1085.08,17.52 L1088.46,17.36 L1091.85,17.20 L1095.23,17.04 L1098.62,16.89 L1102.00,16.73" stroke="#1b9e7a"/>
<path d="M86.50,654.10 L89.89,653.74 L93.27,653.36 L96.66,652.98 L100.04,652.59 L103.43,652.19 L106.81,651.78 L110.20,651.37 L113.58,650.94 L116.96,650.51 L120.35,650.06 L123.73,649.61 L127.12,649.14 L130.50,648.67 L133.89,648.18 L137.28,647.69 L140.66,647.18 L144.05,646.66 L147.43,646.14 L150.81,645.60 L154.20,645.05 L157.58,644.48 L160.97,643.91 L164.35,643.32 L167.74,642.72 L171.12,642.11 L174.51,641.48 L177.90,640.84 L181.28,640.19 L184.67,639.52 L188.05,638.84 L191.44,638.15 L194.82,637.44 L198.21,636.71 L201.59,635.97 L204.97,635.22 L208.36,634.45 L211.75,633.66 L215.13,632.86 L218.52,632.04 L221.90,631.20 L225.28,630.35 L228.67,629.48 L232.05,628.59 L235.44,627.68 L238.82,626.76 L242.21,625.81 L245.59,624.85 L248.98,623.87 L252.37,622.87 L255.75,621.85 L259.13,620.80 L262.52,619.74 L265.90,618.66 L269.29,617.55 L272.68,616.43 L276.06,615.28 L279.44,614.11 L282.83,612.91 L286.22,611.70 L289.60,610.46 L292.99,609.20 L296.37,607.91 L299.75,606.60 L303.14,605.26 L306.52,603.90 L309.91,602.51 L313.30,601.10 L316.68,599.67 L320.06,598.20 L323.45,596.71 L326.83,595.19 L330.22,593.65 L333.61,592.08 L336.99,590.48 L340.38,588.85 L343.76,587.19 L347.14,585.51 L350.53,583.79 L353.92,582.05 L357.30,580.28 L360.69,578.47 L364.07,576.64 L367.45,574.78 L370.84,572.88 L374.22,570.95 L377.61,569.00 L381.00,567.01 L384.38,564.99 L387.76,562.94 L391.15,560.85 L394.54,558.73 L397.92,556.58 L401.31,554.40 L404.69,552.19 L408.07,549.94 L411.46,547.66 L414.84,545.34 L418.23,543.00 L421.62,540.61 L425.00,538.20 L428.38,535.75 L431.77,533.27 L435.16,530.75 L438.54,528.20 L441.93,525.62 L445.31,523.01 L448.69,520.36 L452.08,517.67 L455.47,514.95 L458.85,512.20 L462.24,509.42 L465.62,506.60 L469.00,503.75 L472.39,500.87 L475.77,497.96 L479.16,495.01 L482.54,492.03 L485.93,489.02 L489.31,485.98 L492.70,482.90 L496.08,479.80 L499.47,476.67 L502.86,473.50 L506.24,470.31 L509.62,467.08 L513.01,463.83 L516.39,460.55 L519.78,457.24 L523.16,453.91 L526.55,450.55 L529.93,447.16 L533.32,443.75 L536.71,440.31 L540.09,436.85 L543.48,433.36 L546.86,429.86 L550.25,426.33 L553.63,422.78 L557.01,419.20 L560.40,415.61 L563.78,412.00 L567.17,408.37 L570.56,404.73 L573.94,401.07 L577.33,397.39 L580.71,393.70 L584.10,389.99 L587.48,386.27 L590.87,382.54 L594.25,378.80 L597.63,375.05 L601.02,371.28 L604.40,367.51 L607.79,363.74 L611.18,359.96 L614.56,356.17 L617.95,352.37 L621.33,348.58 L624.72,344.78 L628.10,340.98 L631.49,337.18 L634.87,333.39 L638.25,329.59 L641.64,325.79 L645.02,322.00 L648.41,318.22 L651.79,314.44 L655.18,310.67 L658.56,306.90 L661.95,303.15 L665.34,299.40 L668.72,295.66 L672.11,291.94 L675.49,288.23 L678.88,284.53 L682.26,280.85 L685.64,277.18 L689.03,273.53 L692.41,269.89 L695.80,266.27 L699.19,262.67 L702.57,259.09 L705.96,255.53 L709.34,252.00 L712.73,248.48 L716.11,244.98 L719.50,241.51 L722.88,238.07 L726.26,234.64 L729.65,231.24 L733.03,227.87 L736.42,224.53 L739.80,221.21 L743.19,217.92 L746.57,214.65 L749.96,211.42 L753.35,208.21 L756.73,205.04 L760.12,201.89 L763.50,198.77 L766.88,195.69 L770.27,192.63 L773.65,189.61 L777.04,186.61 L780.42,183.65 L783.81,180.73 L787.19,177.83 L790.58,174.97 L793.96,172.14 L797.35,169.34 L800.74,166.57 L804.12,163.84 L807.50,161.15 L810.89,158.48 L814.27,155.85 L817.66,153.26 L821.04,150.69 L824.43,148.16 L827.81,145.67 L831.20,143.20 L834.59,140.78 L837.97,138.38 L841.36,136.02 L844.74,133.69 L848.12,131.40 L851.51,129.13 L854.89,126.91 L858.28,124.71 L861.66,122.55 L865.05,120.42 L868.44,118.32 L871.82,116.25 L875.21,114.22 L878.59,112.22 L881.98,110.25 L885.36,108.31 L888.75,106.40 L892.13,104.53 L895.51,102.68 L898.90,100.86 L902.29,99.08 L905.67,97.32 L909.06,95.59 L912.44,93.90 L915.83,92.23 L919.21,90.59 L922.60,88.98 L925.98,87.39 L929.37,85.84 L932.75,84.31 L936.13,82.81 L939.52,81.33 L942.90,79.89 L946.29,78.46 L949.67,77.07 L953.06,75.70 L956.44,74.35 L959.83,73.03 L963.21,71.73 L966.60,70.46 L969.99,69.21 L973.37,67.98 L976.75,66.78 L980.14,65.60 L983.52,64.44 L986.91,63.31 L990.29,62.20 L993.68,61.10 L997.06,60.03 L1000.45,58.98 L1003.84,57.95 L1007.22,56.94 L1010.61,55.95 L1013.99,54.98 L1017.38,54.03 L1020.76,53.10 L1024.14,52.18 L1027.53,51.29 L1030.91,50.41 L1034.30,49.55 L1037.68,48.70 L1041.07,47.88 L1044.45,47.07 L1047.84,46.27 L1051.22,45.50 L1054.61,44.74 L1057.99,43.99 L1061.38,43.26 L1064.76,42.54 L1068.15,41.84 L1071.54,41.16 L1074.92,40.48 L1078.31,39.83 L1081.69,39.18 L1085.08,38.55 L1088.46,37.93 L1091.85,37.33 L1095.23,36.73 L1098.62,36.15 L1102.00,35.58" stroke="#005b82"/>
</g>
<g font-size="29.2" fill="#262626" stroke="#262626" stroke-width="0.5">
<text x="75.4" y="682.30" text-anchor="end">0</text>
<text x="77.0" y="549.65" text-anchor="end">0.2</text>
<text x="77.0" y="417.65" text-anchor="end">0.4</text>
<text x="77.0" y="285.65" text-anchor="end">0.6</text>
<text x="77.0" y="153.65" text-anchor="end">0.8</text>
<text x="75.3" y="20.60" text-anchor="end">1</text>
<text x="86.50" y="707.8" text-anchor="middle">0.1</text>
<text x="425.00" y="707.8" text-anchor="middle">1</text>
<text x="763.50" y="707.8" text-anchor="middle">10</text>
<text x="1102.00" y="707.8" text-anchor="middle">100</text>
<text x="594.6" y="746.1" font-size="31.3" text-anchor="middle">FOM</text>
<text transform="translate(23.2,338.6) rotate(-90)" font-size="31.3" text-anchor="middle">efficiency</text>
</g>
<rect x="101" y="25" width="417.5" height="210.5" fill="#fff" stroke="#262626" stroke-width="2"/>
<line x1="109" y1="47.9" x2="167.5" y2="47.9" stroke="#1b9e7a" stroke-width="3.6"/>
<line x1="109" y1="89.2" x2="167.5" y2="89.2" stroke="#005b82" stroke-width="3.6"/>
<rect x="109.6" y="114.4" width="57.4" height="31.2" fill="#f58220" stroke="#000" stroke-width="2"/>
<rect x="109.6" y="155.8" width="57.4" height="31" fill="#fff" stroke="#000" stroke-width="2"/>
<g stroke="#000" stroke-width="2">
<line x1="109.6" y1="171.1" x2="140.5" y2="155.8"/>
<line x1="120.6" y1="155.8" x2="166.9" y2="179.3"/>
<line x1="109.6" y1="180.7" x2="122.0" y2="187.0"/>
<line x1="138.4" y1="187.0" x2="166.9" y2="172.5"/>
</g>
<rect x="109.6" y="197.0" width="57.4" height="31.2" fill="#00869b" stroke="#000" stroke-width="2"/>
<g font-size="34.6" fill="#000" stroke="#000" stroke-width="0.5" word-spacing="1.6">
<text x="173.0" y="63.40">ideal regenerator</text>
<text x="173.0" y="103.40">ideal cascade</text>
<text x="173.0" y="143.15">NiTiX</text>
<text x="173.0" y="182.90">CuAlX</text>
<text x="173.0" y="223.00">elastocaloric polymers</text>
</g>
</svg>
</body></html>
